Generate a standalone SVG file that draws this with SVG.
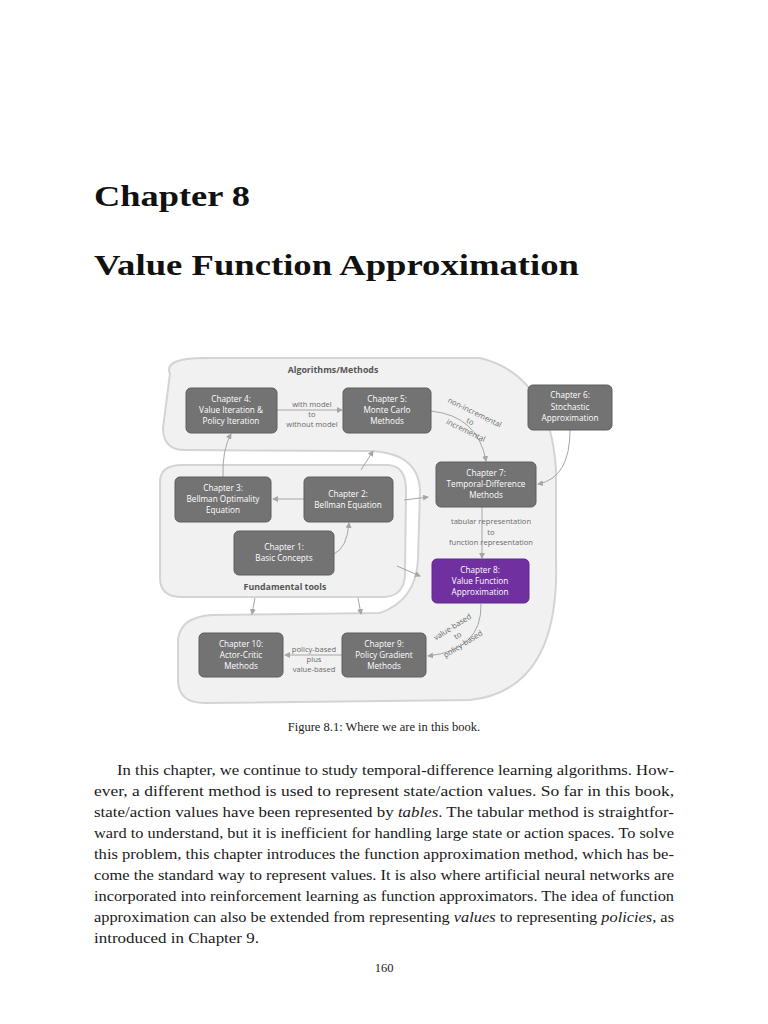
<svg xmlns="http://www.w3.org/2000/svg" width="768" height="1024" viewBox="0 0 768 1024">
<style>
.title{font-family:"Liberation Serif",serif;font-weight:bold;font-size:29px;fill:#111}
.body{font-family:"Liberation Serif",serif;font-size:15.5px;fill:#1a1a1a}
.cap{font-family:"Liberation Serif",serif;font-size:12.5px;fill:#222}
.nb{fill:#737373;stroke:#5e5e5e;stroke-width:1}
.nt{font-family:"Open Sans",sans-serif;font-size:8.2px;fill:#fff;text-anchor:middle}
.lbl{font-family:"Open Sans",sans-serif;font-size:7.6px;fill:#6a6a6a;text-anchor:middle}
.grp{font-family:"Open Sans",sans-serif;font-size:8.8px;font-weight:bold;fill:#555;text-anchor:middle}
.blob{fill:#f1f1f1;stroke:#d4d4d4;stroke-width:2}
.c{fill:none;stroke:#a6a6a6;stroke-width:1;marker-end:url(#ah)}
</style>
<defs>
<marker id="ah" markerWidth="6" markerHeight="6" refX="5" refY="3" orient="auto" markerUnits="userSpaceOnUse"><path d="M0,0 L6,3 L0,6 Z" fill="#a6a6a6"/></marker>
</defs>
<rect width="768" height="1024" fill="#fff"/>
<text class="title" x="94" y="206" textLength="156" lengthAdjust="spacingAndGlyphs">Chapter 8</text>
<text class="title" x="94" y="275" textLength="485" lengthAdjust="spacingAndGlyphs">Value Function Approximation</text>

<g id="blobs">
<path class="blob" d="M170,374 Q163,358 205,358 L480,358 Q550,375 556,470 L556,560 Q560,690 470,700 L205,703 Q178,703 178,680 L178,640 Q180,617 212,615 L380,613 Q416,600 418,560 L420,490 Q418,452 368,451 L185,450 Q163,450 163,428 Z"/>
<path class="blob" d="M160,482 Q160,465 182,465 L388,465 Q406,466 406,490 L405,575 Q404,596 384,597 L182,597 Q160,597 160,578 Z"/>
<text class="grp" x="333" y="373">Algorithms/Methods</text>
<text class="grp" x="285" y="590">Fundamental tools</text>
</g>

<g id="connectors">
<path class="c" d="M277,410 L342,410"/>
<path class="c" d="M431,411 Q478,416 486,461"/>
<path class="c" d="M570,430 Q570,478 538,484"/>
<path class="c" d="M482,507 L482,558"/>
<path class="c" d="M481,604 Q482,650 428,656"/>
<path class="c" d="M342,655 L285,655"/>
<path class="c" d="M223,477 Q222,450 231,434"/>
<path class="c" d="M304,499 L273,499"/>
<path class="c" d="M334,554 Q347,548 349,523"/>
<path class="c" d="M361,470 L373,451"/>
<path class="c" d="M404,500 L428,497"/>
<path class="c" d="M397,566 L420,576"/>
<path class="c" d="M255,598 L252,614"/>
<path class="c" d="M358,598 L361,614"/>
<text class="lbl" x="312" y="407">with model</text>
<text class="lbl" x="312" y="417">to</text>
<text class="lbl" x="312" y="427">without model</text>
<g transform="translate(470,422) rotate(26)">
<text class="lbl" x="0" y="-8">non-incremental</text>
<text class="lbl" x="0" y="2">to</text>
<text class="lbl" x="0" y="12">incremental</text>
</g>
<text class="lbl" x="491" y="524">tabular representation</text>
<text class="lbl" x="491" y="535">to</text>
<text class="lbl" x="491" y="545">function representation</text>
<g transform="translate(458,636) rotate(-32)">
<text class="lbl" x="0" y="-8">value-based</text>
<text class="lbl" x="0" y="2">to</text>
<text class="lbl" x="0" y="12">policy-based</text>
</g>
<text class="lbl" x="314" y="652">policy-based</text>
<text class="lbl" x="314" y="662">plus</text>
<text class="lbl" x="314" y="672">value-based</text>
</g>

<g id="ch4"><rect class="nb" x="186" y="388" width="91" height="45" rx="5"/><text class="nt" x="231" y="402">Chapter 4:</text><text class="nt" x="231" y="413">Value Iteration &amp;</text><text class="nt" x="231" y="424">Policy Iteration</text></g>
<g id="ch5"><rect class="nb" x="343" y="388" width="88" height="45" rx="5"/><text class="nt" x="387" y="402">Chapter 5:</text><text class="nt" x="387" y="413">Monte Carlo</text><text class="nt" x="387" y="424">Methods</text></g>
<g id="ch6"><rect class="nb" x="528" y="385" width="84" height="45" rx="5"/><text class="nt" x="570" y="398">Chapter 6:</text><text class="nt" x="570" y="410">Stochastic</text><text class="nt" x="570" y="421">Approximation</text></g>
<g id="ch7"><rect class="nb" x="436" y="462" width="100" height="45" rx="5"/><text class="nt" x="486" y="476">Chapter 7:</text><text class="nt" x="486" y="487">Temporal-Difference</text><text class="nt" x="486" y="498">Methods</text></g>
<g id="ch3"><rect class="nb" x="175" y="477" width="96" height="45" rx="5"/><text class="nt" x="223" y="491">Chapter 3:</text><text class="nt" x="223" y="502">Bellman Optimality</text><text class="nt" x="223" y="513">Equation</text></g>
<g id="ch2"><rect class="nb" x="304" y="477" width="89" height="45" rx="5"/><text class="nt" x="348" y="497">Chapter 2:</text><text class="nt" x="348" y="508">Bellman Equation</text></g>
<g id="ch1"><rect class="nb" x="234" y="531" width="100" height="44" rx="5"/><text class="nt" x="284" y="550">Chapter 1:</text><text class="nt" x="284" y="561">Basic Concepts</text></g>
<g id="ch8"><rect x="432" y="559" width="97" height="44" rx="5" fill="#7030a0" stroke="#5f2890"/><text class="nt" x="480" y="573">Chapter 8:</text><text class="nt" x="480" y="584">Value Function</text><text class="nt" x="480" y="595">Approximation</text></g>
<g id="ch10"><rect class="nb" x="199" y="633" width="84" height="44" rx="5"/><text class="nt" x="241" y="647">Chapter 10:</text><text class="nt" x="241" y="658">Actor-Critic</text><text class="nt" x="241" y="669">Methods</text></g>
<g id="ch9"><rect class="nb" x="342" y="633" width="84" height="44" rx="5"/><text class="nt" x="384" y="647">Chapter 9:</text><text class="nt" x="384" y="658">Policy Gradient</text><text class="nt" x="384" y="669">Methods</text></g>

<text class="cap" x="384" y="731" text-anchor="middle">Figure 8.1: Where we are in this book.</text>
<g class="body">
<text x="117" y="775" textLength="557" lengthAdjust="spacingAndGlyphs">In this chapter, we continue to study temporal-difference learning algorithms. How-</text>
<text x="94" y="796" textLength="580" lengthAdjust="spacingAndGlyphs">ever, a different method is used to represent state/action values. So far in this book,</text>
<text x="94" y="817" textLength="580" lengthAdjust="spacingAndGlyphs">state/action values have been represented by <tspan font-style="italic">tables</tspan>. The tabular method is straightfor-</text>
<text x="94" y="838" textLength="580" lengthAdjust="spacingAndGlyphs">ward to understand, but it is inefficient for handling large state or action spaces. To solve</text>
<text x="94" y="859" textLength="580" lengthAdjust="spacingAndGlyphs">this problem, this chapter introduces the function approximation method, which has be-</text>
<text x="94" y="880" textLength="580" lengthAdjust="spacingAndGlyphs">come the standard way to represent values. It is also where artificial neural networks are</text>
<text x="94" y="901" textLength="580" lengthAdjust="spacingAndGlyphs">incorporated into reinforcement learning as function approximators. The idea of function</text>
<text x="94" y="922" textLength="580" lengthAdjust="spacingAndGlyphs">approximation can also be extended from representing <tspan font-style="italic">values</tspan> to representing <tspan font-style="italic">policies</tspan>, as</text>
<text x="94" y="943" textLength="165" lengthAdjust="spacingAndGlyphs">introduced in Chapter 9.</text>
</g>
<text class="cap" x="384" y="972" text-anchor="middle" font-size="13">160</text>
</svg>
